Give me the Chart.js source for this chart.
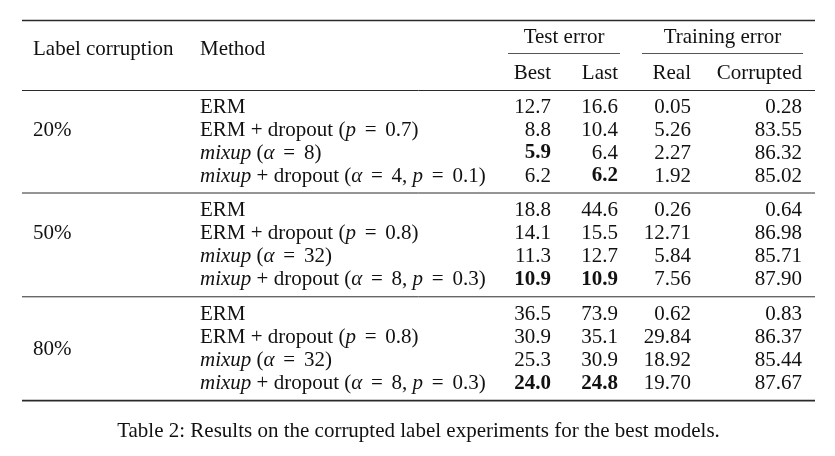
<!DOCTYPE html>
<html>
<head>
<meta charset="utf-8">
<script src="https://cdn.jsdelivr.net/npm/chart.js@4/dist/chart.umd.min.js"></script>
<style>
  body { margin: 0; background: #fff; }
  canvas { display: block; }
</style>
</head>
<body>
<canvas id="tableChart" width="835" height="456"></canvas>
<script>
// table data
var groups = ["20%", "50%", "80%"];
var methods = ["ERM", "ERM + dropout", "mixup", "mixup + dropout"];
var methodParams = [
    ["", "p = 0.7", "α = 8", "α = 4, p = 0.1"],
    ["", "p = 0.8", "α = 32", "α = 8, p = 0.3"],
    ["", "p = 0.8", "α = 32", "α = 8, p = 0.3"]
];
var testBest = [[12.7, 8.8, 5.9, 6.2], [18.8, 14.1, 11.3, 10.9], [36.5, 30.9, 25.3, 24.0]];
var testLast = [[16.6, 10.4, 6.4, 6.2], [44.6, 15.5, 12.7, 10.9], [73.9, 35.1, 30.9, 24.8]];
var trainReal = [[0.05, 5.26, 2.27, 1.92], [0.26, 12.71, 5.84, 7.56], [0.62, 29.84, 18.92, 19.70]];
var trainCorrupted = [[0.28, 83.55, 86.32, 85.02], [0.64, 86.98, 85.71, 87.90], [0.83, 86.37, 85.44, 87.67]];
var headLeft = ["Label corruption", "Method"];
var columnGroups = ["Test error", "Training error"];
var columnLabels = ["Best", "Last", "Real", "Corrupted"];
var caption = "Table 2: Results on the corrupted label experiments for the best models.";

// layout
var FS = 21;
var FONT = '"Liberation Serif", "Times New Roman", serif';
var INK = "#111";
var LEFT = 22, RIGHT = 815;
var X_GROUP = 33, X_METHOD = 200;
var X_COLS = [551, 618, 691, 802];
var X_SPANS = [[508, 620], [642, 803]];
var Y_TOP = 20.5, Y_HEAD = 49, Y_SPAN_TEXT = 37, Y_SPAN_RULE = 53.5, Y_SUB = 73, Y_MID = 90.5;
var ROW0 = 107, ROW_STEP = 23, GROUP_STEP = 103.8;
var LABEL_ROW = [1, 1, 1.5];
var Y_CAPTION = 431;
var EQ_PAD = 3.5;

function rowY(g, r) { return ROW0 + g * GROUP_STEP + r * ROW_STEP; }

function methodSegs(name, param) {
    var segs = [];
    name.split(" ").forEach(function(w, i) {
        if (i) segs.push([" ", ""]);
        segs.push([w, w === "mixup" ? "italic" : ""]);
    });
    if (param) {
        segs.push([" (", ""]);
        for (var ch of param) {
            if (ch === "=") segs.push([ch, "", EQ_PAD]);
            else segs.push([ch, /[a-zα-ω]/.test(ch) ? "italic" : ""]);
        }
        segs.push([")", ""]);
    }
    return segs;
}

// build cell datasets
var cellSets = [];
function textSet(points) {
    cellSets.push({
        type: "scatter",
        data: points.map(function(p) { return { x: p.x, y: p.y }; }),
        cells: points,
        pointRadius: 0,
        pointHoverRadius: 0
    });
}

textSet([
    { x: X_GROUP, y: Y_HEAD, text: headLeft[0], align: "left" },
    { x: X_METHOD, y: Y_HEAD, text: headLeft[1], align: "left" },
    { x: (X_SPANS[0][0] + X_SPANS[0][1]) / 2, y: Y_SPAN_TEXT, text: columnGroups[0], align: "center" },
    { x: (X_SPANS[1][0] + X_SPANS[1][1]) / 2, y: Y_SPAN_TEXT, text: columnGroups[1], align: "center" },
    { x: (LEFT + RIGHT) / 2, y: Y_CAPTION, text: caption, align: "center" }
]);
textSet(columnLabels.map(function(l, i) { return { x: X_COLS[i], y: Y_SUB, text: l, align: "right" }; }));
textSet(groups.map(function(g, i) { return { x: X_GROUP, y: rowY(i, LABEL_ROW[i]), text: g, align: "left" }; }));

var methodCells = [];
groups.forEach(function(g, gi) {
    methods.forEach(function(m, r) {
        methodCells.push({ x: X_METHOD, y: rowY(gi, r), segs: methodSegs(m, methodParams[gi][r]), align: "left" });
    });
});
textSet(methodCells);

[[testBest, 1, true], [testLast, 1, true], [trainReal, 2, false], [trainCorrupted, 2, false]].forEach(function(col, ci) {
    var pts = [];
    col[0].forEach(function(vals, gi) {
        var best = Math.min.apply(null, vals);
        vals.forEach(function(v, r) {
            pts.push({ x: X_COLS[ci], y: rowY(gi, r), text: v.toFixed(col[1]), bold: col[2] && v === best, align: "right" });
        });
    });
    textSet(pts);
});

// horizontal rules
function rule(x0, x1, y, w) {
    return {
        type: "scatter",
        data: [{ x: x0, y: y }, { x: x1, y: y }],
        showLine: true,
        borderColor: "#2a2a2a",
        borderWidth: w,
        pointRadius: 0,
        pointHoverRadius: 0
    };
}
var rules = [rule(LEFT, RIGHT, Y_TOP, 1.6), rule(LEFT, RIGHT, Y_MID, 1),
    rule(X_SPANS[0][0], X_SPANS[0][1], Y_SPAN_RULE, 0.8), rule(X_SPANS[1][0], X_SPANS[1][1], Y_SPAN_RULE, 0.8)];
groups.forEach(function(g, gi) {
    var last = gi === groups.length - 1;
    rules.push(rule(LEFT, RIGHT, rowY(gi, 3) + 17, last ? 1.6 : 1));
});

var cellText = {
    id: "cellText",
    afterDatasetsDraw: function(chart) {
        var ctx = chart.ctx;
        ctx.save();
        ctx.fillStyle = INK;
        ctx.textBaseline = "middle";
        ctx.textAlign = "left";
        chart.data.datasets.forEach(function(ds, i) {
            if (!ds.cells) return;
            var meta = chart.getDatasetMeta(i);
            ds.cells.forEach(function(c, j) {
                var el = meta.data[j];
                var segs = c.segs || [[c.text, ""]];
                var weight = c.bold ? "bold" : "normal";
                var widths = segs.map(function(s) {
                    ctx.font = (s[1] || "normal") + " " + weight + " " + FS + "px " + FONT;
                    return ctx.measureText(s[0]).width + 2 * (s[2] || 0);
                });
                var total = widths.reduce(function(a, b) { return a + b; }, 0);
                var x = el.x;
                if (c.align === "right") x -= total;
                else if (c.align === "center") x -= total / 2;
                segs.forEach(function(s, k) {
                    ctx.font = (s[1] || "normal") + " " + weight + " " + FS + "px " + FONT;
                    ctx.fillText(s[0], x + (s[2] || 0), el.y);
                    x += widths[k];
                });
            });
        });
        ctx.restore();
    }
};

new Chart(document.getElementById("tableChart").getContext("2d"), {
    type: "scatter",
    data: { datasets: rules.concat(cellSets) },
    options: {
        responsive: false,
        animation: false,
        events: [],
        layout: { padding: 0 },
        plugins: { legend: { display: false }, tooltip: { enabled: false } },
        scales: {
            x: { type: "linear", min: 0, max: 835, display: false },
            y: { type: "linear", min: 0, max: 456, reverse: true, display: false }
        }
    },
    plugins: [cellText]
});
</script>
</body>
</html>
